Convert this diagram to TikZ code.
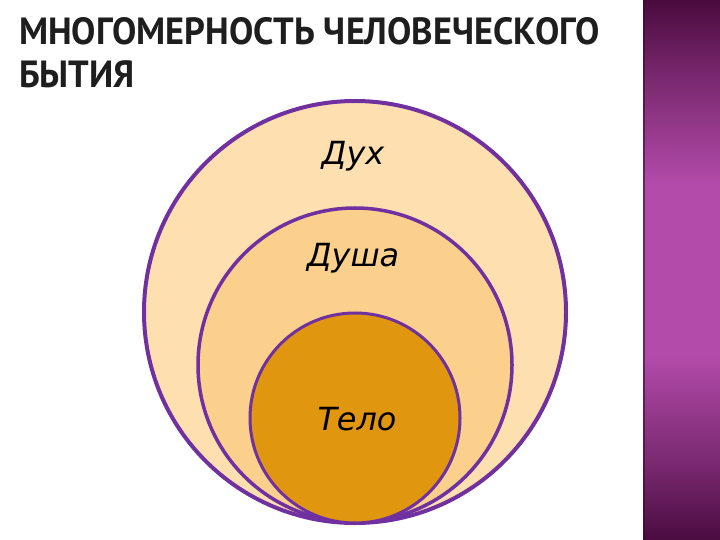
\documentclass[tikz,border=0pt]{standalone}
\usepackage{fontspec}
\setmainfont{DejaVu Sans}
\newfontfamily\titlefont{PT Sans}
\newfontfamily\labelfont{DejaVu Sans}
\definecolor{ringline}{HTML}{7030A0}
\definecolor{outerfill}{HTML}{FEE0B0}
\definecolor{midfill}{HTML}{FAD08C}
\definecolor{innerfill}{HTML}{E0960F}
\definecolor{bandtop}{HTML}{4A0B3E}
\definecolor{bandmid}{HTML}{B24BA9}
\definecolor{bandbot}{HTML}{4A0C40}
\definecolor{titleink}{HTML}{1E1E1E}
\pgfdeclareverticalshading{bandshade}{100bp}{
  color(0bp)=(bandbot); color(25bp)=(bandbot); color(32bp)=(bandbot!55!bandmid);
  color(42bp)=(bandmid); color(58bp)=(bandmid); color(68bp)=(bandtop!55!bandmid);
  color(75bp)=(bandtop); color(100bp)=(bandtop)}
\begin{document}
\begin{tikzpicture}[x=1bp,y=-1bp,
  ring/.style={circle, draw=ringline, inner sep=0pt, outer sep=0pt},
  lbl/.style={anchor=base, inner sep=0pt, font=\labelfont\itshape\fontsize{32}{36}\selectfont, text=black},
  ttl/.style={anchor=base west, inner sep=0pt, text=titleink, font=\titlefont\bfseries\fontsize{38}{40}\selectfont}]
\useasboundingbox (0,0) rectangle (720,540);
\fill[white] (0,0) rectangle (720,540);
% side band
\shade[shading=bandshade] (643,0) rectangle (720,540);
\fill[bandtop!80!black, opacity=0.6] (643,0) rectangle (645,540);
% rings
\node[ring, line width=4bp, fill=outerfill, minimum size=422bp] (spirit) at (355,312) {};
\node[ring, line width=3.5bp, fill=midfill, minimum size=314bp] (soul) at (355,365) {};
\node[ring, line width=3bp, fill=innerfill, minimum size=210bp] (body) at (355,418) {};
% labels
\node[lbl] (dukh) at (353,165) {Дух};
\node[lbl] (dusha) at (353,267) {Душа};
\node[lbl] (telo) at (357,430) {Тело};
% title
\node[ttl] (title1) at (19,45) {\scalebox{0.96}[1]{МНОГОМЕРНОСТЬ ЧЕЛОВЕЧЕСКОГО}};
\node[ttl] (title2) at (19,88) {\scalebox{0.96}[1]{БЫТИЯ}};
\end{tikzpicture}
\end{document}
